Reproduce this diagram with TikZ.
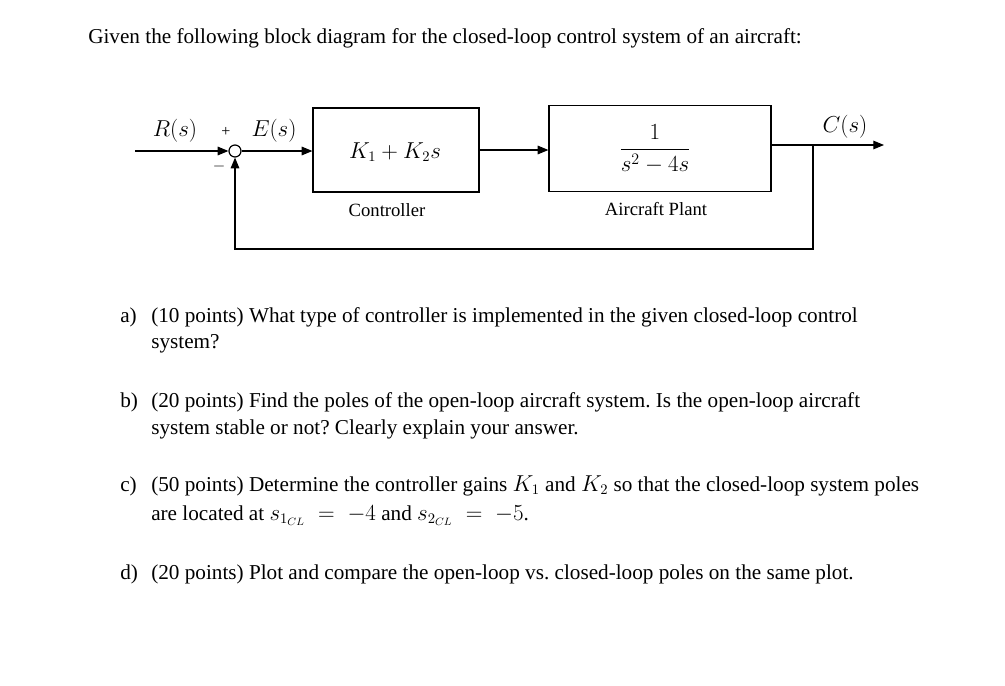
\documentclass[tikz,border=0pt]{standalone}
\usepackage{amsmath}
\usepackage{fontspec}
\setmainfont{Liberation Serif}
\usetikzlibrary{arrows.meta}
\frenchspacing
\begin{document}
\begin{tikzpicture}[x=0.75pt,y=-0.75pt,
  body/.style={anchor=base west,inner sep=0pt,font=\fontsize{15.9}{18}\selectfont},
  blk/.style={draw,line width=0.9pt,inner sep=0pt},
  lbl/.style={inner sep=0pt,font=\fontsize{14}{16}\selectfont},
  mth/.style={inner sep=0pt,font=\fontsize{16}{18}\selectfont},
  sig/.style={line width=0.9pt},
  arr/.style={sig,-{Triangle[length=8pt,width=6.4pt]}}]
\useasboundingbox (0,0) rectangle (1005,685);
\fill[white] (0,0) rectangle (1005,685);

\node[body] (title) at (88,44) {Given the following block diagram for the closed-loop control system of an aircraft:};

% diagram
\node[draw,circle,line width=0.9pt,minimum size=9pt,inner sep=0pt] (sum) at (235,151) {};
\node[blk,minimum width=124.5pt,minimum height=63pt] (ctrl) at (396,150) {};
\node[mth] (ctrltf) at (395,152) {$K_1+K_2s$};
\node[blk,minimum width=166.5pt,minimum height=65pt] (plant) at (660,148.5) {};
\node[inner sep=0pt,font=\fontsize{17}{19}\selectfont] (planttf) at (655,149) {$\dfrac{1}{s^2-4s}$};
\node[lbl] (ctrllbl) at (387,210) {Controller};
\node[lbl] (plantlbl) at (656,209) {Aircraft Plant};

\node[mth] (rs) at (175,131) {$R(s)$};
\node[inner sep=0pt,font=\fontsize{12}{13}\selectfont] (plus) at (226,132) {+};
\node[inner sep=0pt,font=\fontsize{12}{13}\selectfont] (minus) at (219,166) {$-$};
\node[mth] (es) at (274,131) {$E(s)$};
\node[mth] (cs) at (845,127) {$C(s)$};

\coordinate (rin) at (135,151);
\coordinate (br) at (813,145);
\coordinate (cout) at (884,145);
\coordinate (fb) at (813,249);

\draw[arr] (rin) -- (sum.west);
\draw[arr] (sum.east) -- (ctrl.west |- sum.east);
\draw[arr] (ctrl.east) -- (plant.west |- ctrl.east);
\draw[arr] (plant.east |- br) -- (cout);
\draw[arr] (br) -- (fb) -| (sum.south);

% questions
\node[body] (qa) at (120,322) {a)};
\node[body] (qa1) at (151,322) {(10 points) What type of controller is implemented in the given closed-loop control};
\node[body] (qa2) at (151,348) {system?};
\node[body] (qb) at (120,407) {b)};
\node[body] (qb1) at (151,407) {(20 points) Find the poles of the open-loop aircraft system. Is the open-loop aircraft};
\node[body] (qb2) at (151,434) {system stable or not? Clearly explain your answer.};
\node[body] (qc) at (120,491) {c)};
\node[body] (qc1) at (151,491) {(50 points) Determine the controller gains $K_1$ and $K_2$ so that the closed-loop system poles};
\node[body] (qc2) at (151,520) {are located at $s_{1_{CL}}\;=\;-4$ and $s_{2_{CL}}\;=\;-5$.};
\node[body] (qd) at (120,579) {d)};
\node[body] (qd1) at (151,579) {(20 points) Plot and compare the open-loop vs. closed-loop poles on the same plot.};
\end{tikzpicture}
\end{document}
